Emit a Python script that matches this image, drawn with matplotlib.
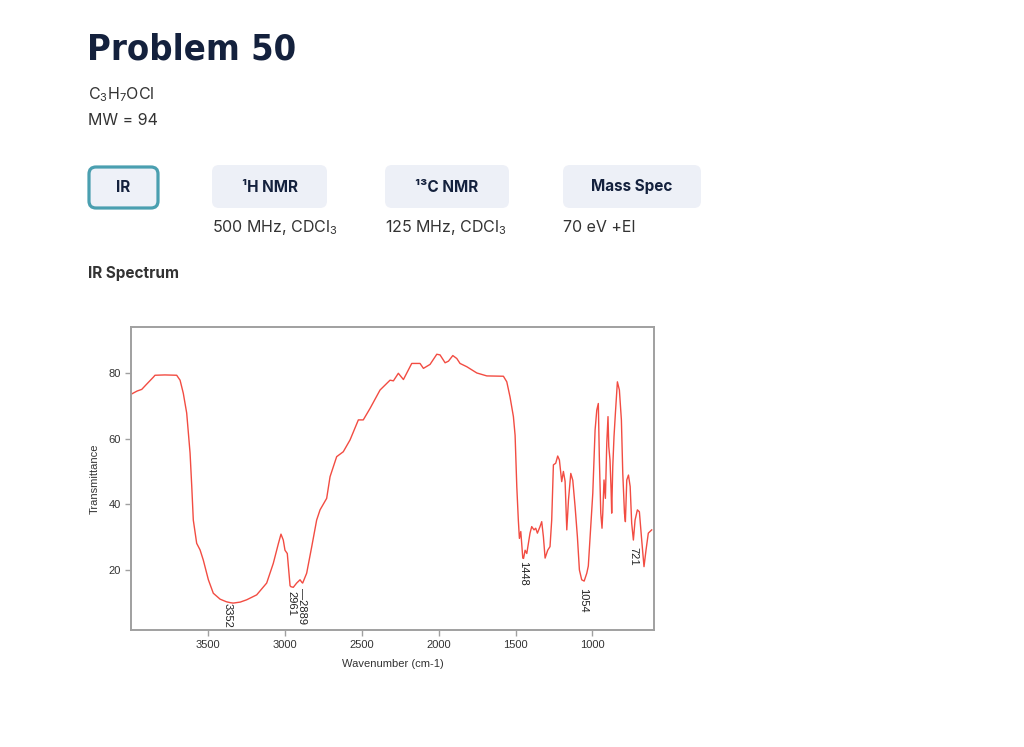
import matplotlib.pyplot as plt
from matplotlib.patches import FancyBboxPatch

plt.rcParams['mathtext.fontset'] = 'custom'
plt.rcParams['mathtext.rm'] = 'Inter'
plt.rcParams['mathtext.default'] = 'rm'

# IR spectrum (wavenumber cm-1, % transmittance)
wavenumber = [4000, 3996, 3960, 3930, 3900, 3855, 3844, 3780, 3703, 3681, 3660, 3638,
              3616, 3605, 3595, 3573, 3551, 3530, 3497, 3465, 3421, 3380, 3352, 3335,
              3290, 3248, 3183, 3118, 3075, 3042, 3025, 3010, 2999, 2984, 2966, 2961,
              2945, 2923, 2901, 2889, 2884, 2858, 2825, 2793, 2771, 2728, 2706, 2663,
              2620, 2576, 2522, 2490, 2446, 2381, 2316, 2294, 2262, 2229, 2175, 2121,
              2099, 2056, 2012, 1991, 1958, 1936, 1908, 1882, 1861, 1817, 1752, 1687,
              1579, 1557, 1536, 1514, 1503, 1492, 1482, 1475, 1466, 1453, 1448, 1438,
              1427, 1406, 1395, 1380, 1369, 1358, 1341, 1330, 1319, 1308, 1291, 1276,
              1265, 1254, 1239, 1226, 1215, 1200, 1189, 1178, 1167, 1156, 1141, 1128,
              1113, 1098, 1085, 1070, 1054, 1037, 1027, 1011, 998, 983, 972, 962,
              955, 946, 938, 933, 925, 916, 907, 899, 894, 886, 879, 875,
              868, 860, 851, 838, 825, 812, 803, 792, 786, 777, 766, 755,
              745, 734, 723, 708, 695, 680, 665, 652, 637, 615]
transmittance = [73.4, 73.6, 74.5, 75.0, 76.5, 78.7, 79.3, 79.4, 79.3, 77.8, 73.8, 67.8,
                 55.6, 45.4, 35.2, 28.1, 26.1, 23.0, 17.0, 12.9, 11.1, 10.3, 10.0, 9.9,
                 10.2, 10.9, 12.4, 16.0, 22.0, 28.0, 30.9, 29.1, 26.0, 25.0, 15.2, 14.9,
                 14.7, 16.0, 17.0, 16.2, 16.0, 19.0, 27.1, 35.2, 38.3, 41.8, 48.4, 54.5,
                 56.0, 59.6, 65.7, 65.7, 69.2, 74.8, 77.8, 77.6, 79.9, 78.0, 82.9, 82.9,
                 81.4, 82.6, 85.7, 85.5, 83.1, 83.6, 85.3, 84.4, 82.9, 81.9, 80.0, 79.1,
                 79.0, 77.3, 72.7, 66.7, 61.0, 45.4, 35.2, 29.6, 31.7, 23.6, 23.5, 26.0,
                 25.0, 31.2, 33.2, 32.2, 32.7, 31.2, 33.2, 34.7, 30.1, 23.6, 26.0, 27.1,
                 35.2, 52.0, 52.5, 54.7, 53.5, 46.9, 50.0, 47.0, 32.2, 41.3, 49.4, 47.3,
                 39.3, 30.1, 20.0, 17.0, 16.6, 19.0, 21.2, 33.2, 43.3, 62.6, 68.7, 70.7,
                 53.5, 37.3, 32.7, 37.3, 47.4, 41.8, 58.6, 66.7, 57.6, 53.5, 44.4, 37.3,
                 51.5, 60.6, 67.7, 77.3, 74.8, 65.7, 49.4, 37.3, 34.7, 47.4, 48.9, 45.4,
                 34.2, 29.1, 35.2, 38.3, 37.7, 29.1, 21.0, 26.0, 31.2, 32.2]

# peak labels: text, x position, y of top of text
peak_text = ['3352', '2961', '—2889', '1448', '1054', '721']
peak_x = [3372, 2958, 2889, 1448, 1059, 736]
peak_y = [9.8, 13.5, 14.6, 22.6, 14.6, 26.9]

buttons = ['IR', '¹H NMR', '¹³C NMR', 'Mass Spec']
button_notes = ['', '500 MHz, CDCl$_3$', '125 MHz, CDCl$_3$', '70 eV +EI']

W, H = 1024, 747
fig = plt.figure(figsize=(W / 100, H / 100), dpi=100)

# overlay in pixel coordinates for the page header
page = fig.add_axes([0, 0, 1, 1])
page.set_xlim(0, W)
page.set_ylim(H, 0)
page.axis('off')

navy = '#14213d'
page.text(87, 60, 'Problem 50', family='DejaVu Sans', fontstretch='condensed',
          fontweight='bold', fontsize=26, color=navy, va='baseline')
page.text(88, 99, 'C$_3$H$_7$OCl', family='Inter', fontsize=11.5, color='#333333', va='baseline')
page.text(88, 125, 'MW = 94', family='Inter', fontsize=11.5, color='#333333', va='baseline')

box_x = [89, 212, 385, 563]
box_w = [69, 115, 124, 138]
for i, label in enumerate(buttons):
    if i == 0:
        patch = FancyBboxPatch((box_x[i], 167), box_w[i], 41,
                               boxstyle='round,pad=0,rounding_size=7',
                               fc='#eef1f8', ec='#4a9fb0', lw=2.3)
    else:
        patch = FancyBboxPatch((box_x[i], 165), box_w[i], 43,
                               boxstyle='round,pad=0,rounding_size=7',
                               fc='#edf0f7', ec='none')
    page.add_patch(patch)
    page.text(box_x[i] + box_w[i] / 2, 187, label, family=['Inter', 'DejaVu Sans'],
              fontweight='bold', fontsize=11, color=navy, ha='center', va='center')
    if button_notes[i]:
        page.text(box_x[i], 232, button_notes[i], family='Inter', fontsize=11.5,
                  color='#333333', va='baseline')

page.text(88, 278, 'IR Spectrum', family='Inter', fontweight='bold', fontsize=11,
          color='#333333', va='baseline')

# the spectrum itself
ax = fig.add_axes([131 / W, 1 - 630 / H, 523 / W, 303 / H])
ax.plot(wavenumber, transmittance, color='#f24c42', lw=1.0)
ax.set_xlim(4000, 600)
ax.set_ylim(1.7, 94)
ax.set_xticks([3500, 3000, 2500, 2000, 1500, 1000])
ax.set_yticks([20, 40, 60, 80])
for s in ax.spines.values():
    s.set_color('#a0a0a0')
    s.set_linewidth(1.4)
ax.tick_params(colors='#a0a0a0', labelcolor='#333333', labelsize=8, length=4, width=1)
for lbl in ax.get_xticklabels() + ax.get_yticklabels():
    lbl.set_family('Liberation Sans')
ax.set_xlabel('Wavenumber (cm-1)', family='Liberation Sans', fontsize=8, color='#333333', labelpad=6)
ax.set_ylabel('Transmittance', family='Liberation Sans', fontsize=8, color='#333333', labelpad=6)

for t, x, y in zip(peak_text, peak_x, peak_y):
    ax.text(x, y, t, rotation=270, ha='center', va='top', family='Liberation Sans',
            fontsize=8, color='#222222')

fig.savefig('out.png', dpi=100)
